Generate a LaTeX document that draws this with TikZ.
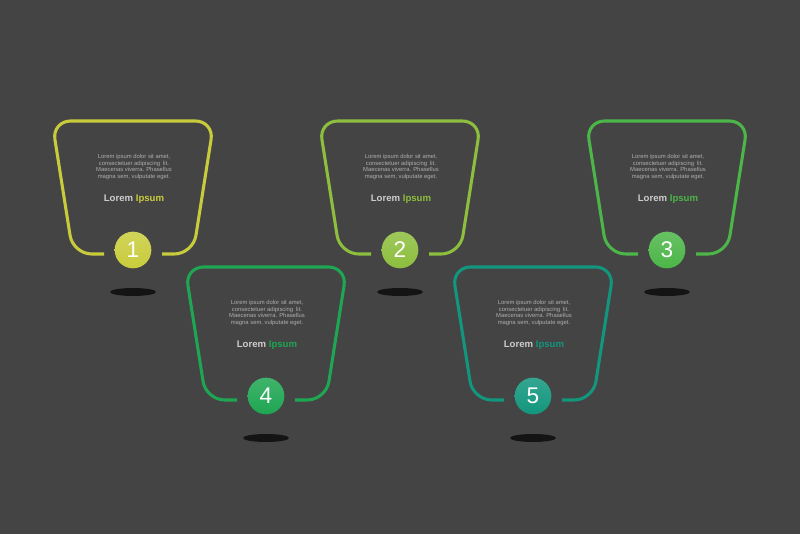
\documentclass[tikz,border=0pt]{standalone}
\usepackage{fontspec}
\setmainfont{Liberation Sans}
\usepackage{xcolor}
\usetikzlibrary{positioning}

\definecolor{bgdark}{RGB}{68,68,68}
\definecolor{blurbgray}{RGB}{175,175,175}
\definecolor{headgray}{RGB}{205,205,205}
\definecolor{stepone}{RGB}{200,204,60}
\definecolor{steptwo}{RGB}{141,190,62}
\definecolor{stepthree}{RGB}{76,182,72}
\definecolor{stepfour}{RGB}{30,166,82}
\definecolor{stepfive}{RGB}{18,150,125}

\begin{document}
\begin{tikzpicture}[x=0.75pt, y=-0.75pt,
  frame/.style={
    line width=2.3pt, rounded corners=14pt
  },
  badge/.style={
    circle, minimum size=27.5pt, inner sep=0pt, text=white,
    font=\fontsize{17}{17}\selectfont
  },
  blurb/.style={
    align=center, text=blurbgray, inner sep=0pt,
    font=\fontsize{4.4}{5.2}\selectfont
  },
  heading/.style={
    inner sep=0pt, text=headgray, font=\bfseries\fontsize{7.2}{8}\selectfont
  },
  hole/.style={
    fill=black!92
  }
]

% Background
\fill[bgdark] (0,0) rectangle (800,534);
\useasboundingbox (0,0) rectangle (800,534);

% Step 1
\begin{scope}[shift={(133,121)}]
  \draw[frame, draw=stepone] (-29,133) -- (-60,133) -- (-81,0) -- (81,0) -- (60,133) -- (29,133);
  \node[badge, top color=stepone!85!white, bottom color=stepone] (num1) at (0,129) {1};
  \node[blurb] (blurb1) at (1,46) {Lorem ipsum dolor sit amet,\\ consectetuer adipiscing\enspace lit.\\ Maecenas viverra. Phasellus\\ magna sem, vulputate eget.};
  \node[heading, below=11pt of blurb1] (title1) {Lorem \textcolor{stepone}{Ipsum}};
  \fill[hole] (0,171) ellipse [x radius=23, y radius=4];
\end{scope}

% Step 2
\begin{scope}[shift={(400,121)}]
  \draw[frame, draw=steptwo] (-29,133) -- (-60,133) -- (-81,0) -- (81,0) -- (60,133) -- (29,133);
  \node[badge, top color=steptwo!85!white, bottom color=steptwo] (num2) at (0,129) {2};
  \node[blurb] (blurb2) at (1,46) {Lorem ipsum dolor sit amet,\\ consectetuer adipiscing\enspace lit.\\ Maecenas viverra. Phasellus\\ magna sem, vulputate eget.};
  \node[heading, below=11pt of blurb2] (title2) {Lorem \textcolor{steptwo}{Ipsum}};
  \fill[hole] (0,171) ellipse [x radius=23, y radius=4];
\end{scope}

% Step 3
\begin{scope}[shift={(667,121)}]
  \draw[frame, draw=stepthree] (-29,133) -- (-60,133) -- (-81,0) -- (81,0) -- (60,133) -- (29,133);
  \node[badge, top color=stepthree!85!white, bottom color=stepthree] (num3) at (0,129) {3};
  \node[blurb] (blurb3) at (1,46) {Lorem ipsum dolor sit amet,\\ consectetuer adipiscing\enspace lit.\\ Maecenas viverra. Phasellus\\ magna sem, vulputate eget.};
  \node[heading, below=11pt of blurb3] (title3) {Lorem \textcolor{stepthree}{Ipsum}};
  \fill[hole] (0,171) ellipse [x radius=23, y radius=4];
\end{scope}

% Step 4
\begin{scope}[shift={(266,267)}]
  \draw[frame, draw=stepfour] (-29,133) -- (-60,133) -- (-81,0) -- (81,0) -- (60,133) -- (29,133);
  \node[badge, top color=stepfour!85!white, bottom color=stepfour] (num4) at (0,129) {4};
  \node[blurb] (blurb4) at (1,46) {Lorem ipsum dolor sit amet,\\ consectetuer adipiscing\enspace lit.\\ Maecenas viverra. Phasellus\\ magna sem, vulputate eget.};
  \node[heading, below=11pt of blurb4] (title4) {Lorem \textcolor{stepfour}{Ipsum}};
  \fill[hole] (0,171) ellipse [x radius=23, y radius=4];
\end{scope}

% Step 5
\begin{scope}[shift={(533,267)}]
  \draw[frame, draw=stepfive] (-29,133) -- (-60,133) -- (-81,0) -- (81,0) -- (60,133) -- (29,133);
  \node[badge, top color=stepfive!85!white, bottom color=stepfive] (num5) at (0,129) {5};
  \node[blurb] (blurb5) at (1,46) {Lorem ipsum dolor sit amet,\\ consectetuer adipiscing\enspace lit.\\ Maecenas viverra. Phasellus\\ magna sem, vulputate eget.};
  \node[heading, below=11pt of blurb5] (title5) {Lorem \textcolor{stepfive}{Ipsum}};
  \fill[hole] (0,171) ellipse [x radius=23, y radius=4];
\end{scope}

\end{tikzpicture}
\end{document}
